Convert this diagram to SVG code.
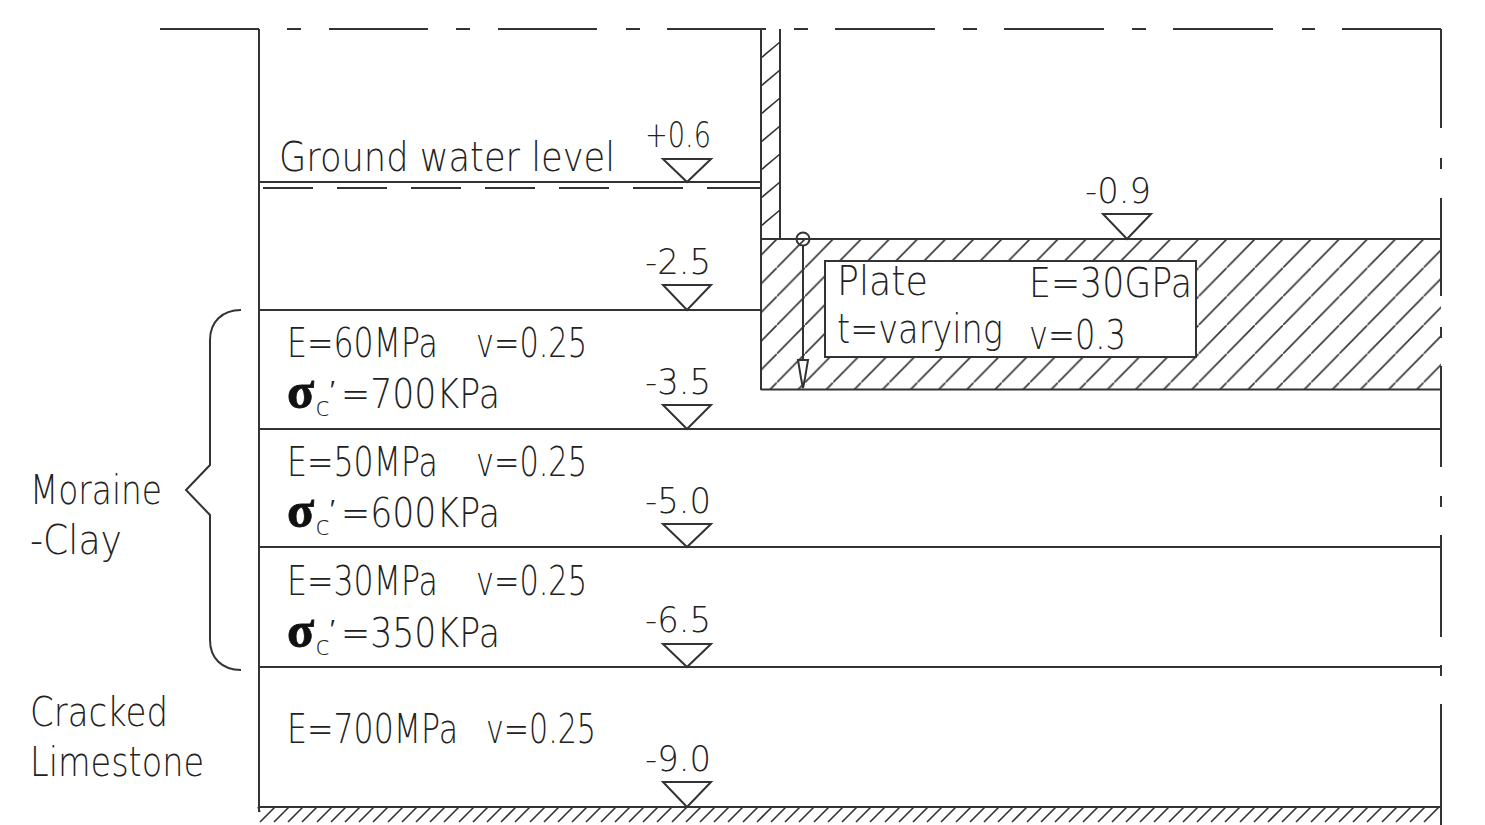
<svg xmlns="http://www.w3.org/2000/svg" width="1485" height="825" viewBox="0 0 1485 825">
<style>
.l{fill:none;stroke:#333;stroke-width:2}
.h{fill:none;stroke:#333;stroke-width:1.6}
.t{font-family:"DejaVu Sans","Liberation Sans",sans-serif;font-weight:200;font-size:40px;fill:#222}
.e{font-size:36px}
.s{font-family:"Liberation Serif",serif;font-weight:700;font-size:50px;fill:#111;stroke:#111;stroke-width:.8}
.c{font-size:26px}
</style>
<defs>
<pattern id="hatch" patternUnits="userSpaceOnUse" x="805" y="239" width="28.12" height="28.7">
<path d="M-2.812 31.57L30.93 -2.87" fill="none" stroke="#333" stroke-width="1.6"/>
</pattern>
</defs>
<rect width="1485" height="825" fill="#fff"/>
<g id="ground-surface">
<path class="l" d="M160 29H259M287 29H301M329 29H428M456 29H470M498 29H597M626 29H640M667 29H766M794 29H808M835 29H935M963 29H977M1004 29H1104M1132 29H1146M1173 29H1273M1302 29H1315M1342 29H1441"/>
</g>
<g id="boundaries">
<path class="l" d="M259 29V812"/>
<path class="l" d="M1441 29V128M1441 158V169M1441 198V296M1441 327V338M1441 366V467M1441 496V507M1441 535V637M1441 665V676M1441 704V825" stroke-width="2.4"/>
</g>
<g id="layers">
<path class="l" d="M259 182H761M259 310H761M259 429H1441M259 547H1441M259 667H1441"/>
<path class="l" d="M263 188H313M337 188H387M411 188H461M485 188H535M559 188H609M633 188H683M707 188H761"/>
</g>
<g id="wall">
<path class="h" d="M761 58L780 42M761 86L780 70M761 114L780 98M761 142L780 126M761 170L780 154M761 198L780 182M761 226L780 210"/>
<path class="l" d="M761 29V390M780 29V239"/>
</g>
<g id="plate">
<rect x="761" y="239" width="680" height="150.500" fill="url(#hatch)"/>
<path class="l" d="M761 239H1441M761 389.500H1441"/>
<rect x="825" y="261" width="371" height="96" fill="#fff" stroke="#333" stroke-width="2"/>
<text class="t" x="837" y="295" textLength="91" lengthAdjust="spacingAndGlyphs">Plate</text>
<text class="t" x="1029" y="297" textLength="163" lengthAdjust="spacingAndGlyphs">E=30GPa</text>
<text class="t" x="837" y="343" textLength="166" lengthAdjust="spacingAndGlyphs">t=varying</text>
<text class="t" x="1029" y="349" textLength="97" lengthAdjust="spacingAndGlyphs">v=0.3</text>
</g>
<g id="plate-thickness">
<path class="l" d="M803 245V360"/>
<circle cx="803" cy="239" r="6.500" fill="none" stroke="#333" stroke-width="2"/>
<path class="l" d="M798 360H808L805 378L803 388L801 378Z"/>
</g>
<g id="brace">
<path class="l" d="M241 310C222 310 210 322 210 340V465L186 490L210 515V640C210 658 222 670 241 670" stroke-width="1.800"/>
</g>
<g id="bedrock">
<path class="l" d="M259 807H1441"/>
<path class="h" d="M258 807L260 812M275 807L260 822M289 807L274 822M303 807L288 822M317 807L302 822M332 807L317 822M346 807L331 822M360 807L345 822M374 807L359 822M388 807L373 822M403 807L388 822M417 807L402 822M431 807L416 822M445 807L430 822M459 807L444 822M474 807L459 822M488 807L473 822M502 807L487 822M516 807L501 822M530 807L515 822M545 807L530 822M559 807L544 822M573 807L558 822M587 807L572 822M601 807L586 822M616 807L601 822M630 807L615 822M644 807L629 822M658 807L643 822M672 807L657 822M687 807L672 822M701 807L686 822M715 807L700 822M729 807L714 822M743 807L728 822M758 807L743 822M772 807L757 822M786 807L771 822M800 807L785 822M814 807L799 822M829 807L814 822M843 807L828 822M857 807L842 822M871 807L856 822M885 807L870 822M900 807L885 822M914 807L899 822M928 807L913 822M942 807L927 822M956 807L941 822M971 807L956 822M985 807L970 822M999 807L984 822M1013 807L998 822M1027 807L1012 822M1042 807L1027 822M1056 807L1041 822M1070 807L1055 822M1084 807L1069 822M1098 807L1083 822M1113 807L1098 822M1127 807L1112 822M1141 807L1126 822M1155 807L1140 822M1169 807L1154 822M1184 807L1169 822M1198 807L1183 822M1212 807L1197 822M1226 807L1211 822M1240 807L1225 822M1255 807L1240 822M1269 807L1254 822M1283 807L1268 822M1297 807L1282 822M1311 807L1296 822M1326 807L1311 822M1340 807L1325 822M1354 807L1339 822M1368 807L1353 822M1382 807L1367 822M1397 807L1382 822M1411 807L1396 822M1425 807L1410 822M1439 807L1424 822"/>
</g>
<g id="level-p06"><path class="l" d="M663 159H711L687 182Z"/><text class="t e" x="645" y="147" textLength="66" lengthAdjust="spacingAndGlyphs">+0.6</text></g>
<g id="level-m09"><path class="l" d="M1103 214H1151L1127 239Z"/><text class="t e" x="1085" y="203" textLength="66" lengthAdjust="spacingAndGlyphs">-0.9</text></g>
<g id="level-m25"><path class="l" d="M663 285H711L687 310Z"/><text class="t e" x="645" y="274" textLength="66" lengthAdjust="spacingAndGlyphs">-2.5</text></g>
<g id="level-m35"><path class="l" d="M663 405H711L687 429Z"/><text class="t e" x="645" y="394" textLength="66" lengthAdjust="spacingAndGlyphs">-3.5</text></g>
<g id="level-m50"><path class="l" d="M663 524H711L687 547Z"/><text class="t e" x="645" y="513" textLength="66" lengthAdjust="spacingAndGlyphs">-5.0</text></g>
<g id="level-m65"><path class="l" d="M663 644H711L687 667Z"/><text class="t e" x="645" y="632" textLength="66" lengthAdjust="spacingAndGlyphs">-6.5</text></g>
<g id="level-m90"><path class="l" d="M663 782H711L687 807Z"/><text class="t e" x="645" y="771" textLength="66" lengthAdjust="spacingAndGlyphs">-9.0</text></g>
<g id="labels">
<text class="t" x="279" y="171" textLength="336" lengthAdjust="spacingAndGlyphs">Ground water level</text>
<text class="t" x="30" y="504" textLength="132" lengthAdjust="spacingAndGlyphs">Moraine</text>
<text class="t" x="30" y="554" textLength="92" lengthAdjust="spacingAndGlyphs">-Clay</text>
<text class="t" x="30" y="726" textLength="138" lengthAdjust="spacingAndGlyphs">Cracked</text>
<text class="t" x="30" y="776" textLength="174" lengthAdjust="spacingAndGlyphs">Limestone</text>
</g>
<g id="layer-1">
<text class="t" x="287" y="357" textLength="151" lengthAdjust="spacingAndGlyphs">E=60MPa</text>
<text class="t" x="476" y="357" textLength="111" lengthAdjust="spacingAndGlyphs">v=0.25</text>
<text class="s" x="287" y="408">σ</text>
<text class="t c" y="416"><tspan x="315.500">c</tspan><tspan x="330" y="399">′</tspan></text>
<text class="t" x="341" y="408" textLength="159" lengthAdjust="spacingAndGlyphs">=700KPa</text>
</g>
<g id="layer-2">
<text class="t" x="287" y="476" textLength="151" lengthAdjust="spacingAndGlyphs">E=50MPa</text>
<text class="t" x="476" y="476" textLength="111" lengthAdjust="spacingAndGlyphs">v=0.25</text>
<text class="s" x="287" y="527">σ</text>
<text class="t c" y="535"><tspan x="315.500">c</tspan><tspan x="330" y="518">′</tspan></text>
<text class="t" x="341" y="527" textLength="159" lengthAdjust="spacingAndGlyphs">=600KPa</text>
</g>
<g id="layer-3">
<text class="t" x="287" y="595" textLength="151" lengthAdjust="spacingAndGlyphs">E=30MPa</text>
<text class="t" x="476" y="595" textLength="111" lengthAdjust="spacingAndGlyphs">v=0.25</text>
<text class="s" x="287" y="647">σ</text>
<text class="t c" y="655"><tspan x="315.500">c</tspan><tspan x="330" y="638">′</tspan></text>
<text class="t" x="341" y="647" textLength="159" lengthAdjust="spacingAndGlyphs">=350KPa</text>
</g>
<g id="layer-4">
<text class="t" x="287" y="743" textLength="171" lengthAdjust="spacingAndGlyphs">E=700MPa</text>
<text class="t" x="486" y="743" textLength="110" lengthAdjust="spacingAndGlyphs">v=0.25</text>
</g>
</svg>
